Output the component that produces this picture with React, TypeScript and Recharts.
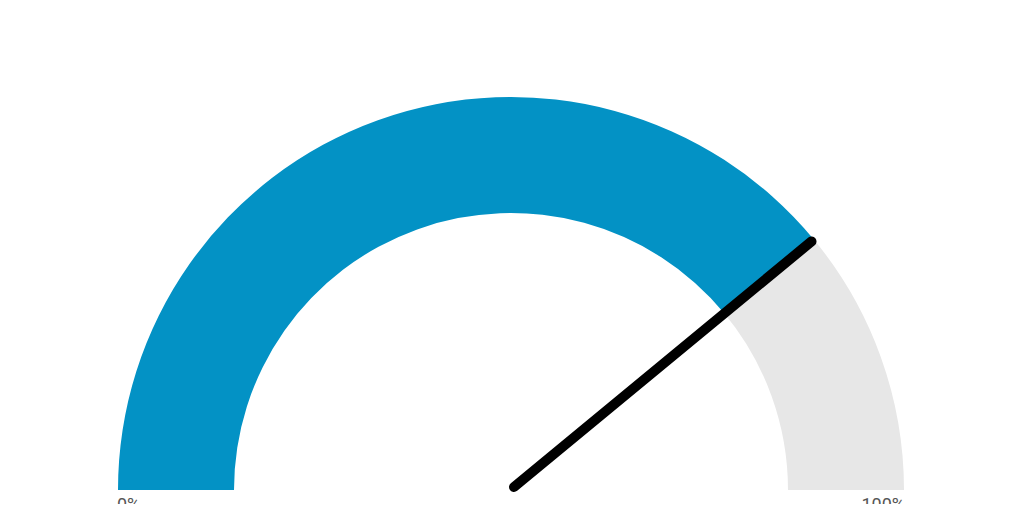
import { PieChart, Pie, Cell } from 'recharts';

const segmentNames = ['value', 'rest'];
const segmentValues = [78, 22];
const endLabels = ['0%', '100%'];

const COLORS = ['#0392c5', '#e7e7e7'];
const RAD = Math.PI / 180;

const data = segmentNames.map((name, i) => ({ name, value: segmentValues[i] }));

// needle + end labels, drawn from the sector geometry recharts hands us
function renderLabel(props: any) {
    const { cx, cy, outerRadius, startAngle, endAngle, index } = props;
    if (index === 0) {
        const len = outerRadius - 3;
        const x2 = cx + len * Math.cos(-endAngle * RAD);
        const y2 = cy + len * Math.sin(-endAngle * RAD);
        return (
            <g>
                <line x1={cx + 3} y1={cy - 3} x2={x2} y2={y2}
                    stroke="#000" strokeWidth={10} strokeLinecap="round" />
                <text x={cx + outerRadius * Math.cos(-startAngle * RAD) - 1} y={cy + 21}
                    textAnchor="start" fontFamily="Roboto" fontSize={18} fill="#555">
                    {endLabels[0]}
                </text>
            </g>
        );
    }
    return (
        <text x={cx + outerRadius * Math.cos(-endAngle * RAD) + 1} y={cy + 21}
            textAnchor="end" fontFamily="Roboto" fontSize={18} fill="#555">
            {endLabels[1]}
        </text>
    );
}

export default function App() {
    return (
        <div style={{ margin: -8, width: 1024, height: 512, background: '#fff', overflow: 'hidden' }}>
            <PieChart width={1024} height={512} margin={{ top: 0, right: 0, bottom: 0, left: 0 }}>
                <Pie
                    data={data}
                    dataKey="value"
                    cx={511}
                    cy={490}
                    startAngle={180}
                    endAngle={0}
                    innerRadius={277}
                    outerRadius={393}
                    stroke="none"
                    label={renderLabel}
                    labelLine={false}
                    isAnimationActive={false}
                >
                    {data.map((d, i) => (
                        <Cell key={d.name} fill={COLORS[i]} />
                    ))}
                </Pie>
            </PieChart>
        </div>
    );
}
